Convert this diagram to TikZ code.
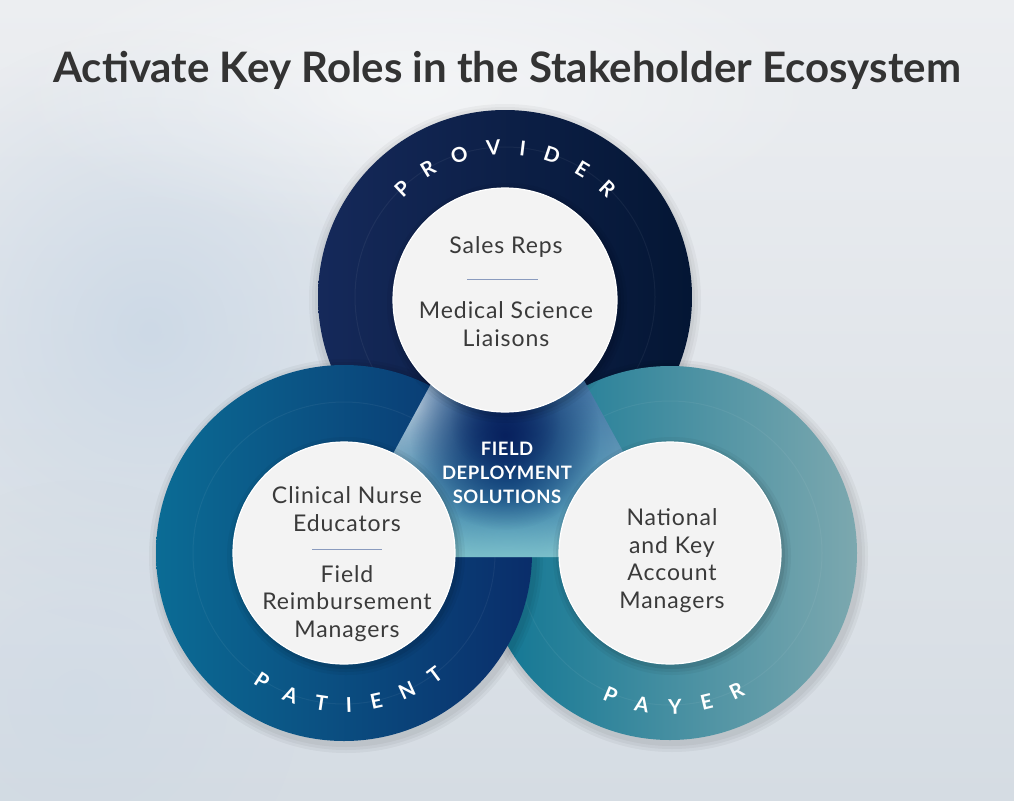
\documentclass[tikz,border=0pt]{standalone}
\usepackage{fontspec}
\setmainfont{Lato}
\newfontfamily\bodyfont[LetterSpace=4]{Lato}
\newfontfamily\fdsfont[LetterSpace=3]{Lato}
\usetikzlibrary{decorations.text,fadings}
\definecolor{bgA}{HTML}{ECEEF1}
\definecolor{bgB}{HTML}{D5DCE3}
\definecolor{bgBlue}{HTML}{CBD8E6}
\definecolor{provL}{HTML}{15295A}
\definecolor{provR}{HTML}{041634}
\definecolor{patL}{HTML}{0B6C95}
\definecolor{patR}{HTML}{0A2D6A}
\definecolor{payL}{HTML}{0E7593}
\definecolor{payR}{HTML}{7CA8AF}
\definecolor{wc}{HTML}{F3F3F3}
\definecolor{txt}{HTML}{3A3A3A}
\definecolor{divc}{HTML}{8A9BBE}
\definecolor{fdsNavy}{HTML}{08215E}
\definecolor{fdsMid}{HTML}{16649A}
\definecolor{fdsTopC}{HTML}{3A689E}
\definecolor{fdsBotC}{HTML}{86C9D0}
\definecolor{titlec}{HTML}{333333}
\tikzfading[name=softdot, inner color=transparent!0, outer color=transparent!100]
\begin{document}
\begin{tikzpicture}[x=1pt,y=-1pt,
  ringnode/.style={circle, inner sep=0pt, minimum size=#1},
  whitenode/.style={circle, inner sep=0pt, minimum size=#1, fill=wc, draw=white, line width=1.2pt},
  bodytext/.style={text=txt, font=\bodyfont\fontsize{23}{27.5}\selectfont, align=center, inner sep=0pt},
  fdstext/.style={text=white, font=\fdsfont\bfseries\fontsize{18.5}{24}\selectfont, align=center, inner sep=0pt},
  divider/.style={draw=divc, line width=0.9pt},
  ringlabel/.style={decorate, decoration={text along path, text color=white, text align={fit to path}, text={|\bfseries\fontsize{20.5}{20.5}\selectfont|#1}}},
  faint/.style={draw=white, draw opacity=0.05, line width=1pt},
]
\useasboundingbox (0,0) rectangle (1014,800);
% background
\fill[top color=bgA, bottom color=bgB] (0,0) rectangle (1014,800);
\fill[bgBlue, opacity=.9, path fading=softdot] (150,330) circle[radius=300pt];
\fill[bgBlue, opacity=.5, path fading=softdot] (80,700) circle[radius=220pt];
\fill[white, opacity=.45, path fading=softdot] (420,90) ellipse[x radius=420pt, y radius=150pt];
% title
\node[font=\bfseries\fontsize{42}{42}\selectfont, text=titlec, anchor=base, inner sep=0pt] (title) at (507,82) {Activate Key Roles in the Stakeholder Ecosystem};
% provider ring
\foreach \d in {3,6,9}{\fill[black,opacity=.035] (505,300) circle[radius={(187+\d)*1pt}];}
\node[ringnode=374pt, left color=provL, right color=provR] (provider) at (505,297) {};
\draw[faint] (provider.center) circle[radius=150pt];
% payer ring
\foreach \d in {3,6,9}{\fill[black,opacity=.04] (672,556) circle[radius={(187+\d)*1pt}];}
\node[ringnode=374pt, left color=payL, right color=payR] (payer) at (670,553) {};
\draw[faint] (payer.center) circle[radius=152pt];
% patient ring
\foreach \d in {3,6,9}{\fill[black,opacity=.04] (346,556) circle[radius={(188+\d)*1pt}];}
\node[ringnode=376pt, left color=patL, right color=patR] (patient) at (344,553) {};
\draw[faint] (patient.center) circle[radius=151pt];
% central triangle
\coordinate (fdsTop) at (508,242);
\coordinate (fdsL) at (337,557);
\coordinate (fdsR) at (681,557);
\begin{scope}
  \clip (fdsTop) -- (fdsL) -- (fdsR) -- cycle;
  \shade[top color=fdsTopC, bottom color=fdsBotC] (330,360) rectangle (690,560);
  \fill[white, opacity=.55, path fading=softdot] (415,405) circle[radius=75pt];
  \fill[fdsMid, opacity=.9, path fading=softdot] (507,470) circle[radius=110pt];
  \fill[fdsBotC, opacity=.7, path fading=softdot] (507,580) circle[radius=80pt];
  \fill[fdsNavy, path fading=softdot] (505,435) circle[radius=95pt];
  \fill[fdsNavy, opacity=.6, path fading=softdot] (505,420) circle[radius=55pt];
\end{scope}
% white circles
\foreach \d/\o in {8/.04,5/.05,2/.07}{\fill[black,opacity=\o] (507,303) circle[radius={(112+\d)*1pt}];}
\node[whitenode=224pt] (provW) at (505,300) {};
\foreach \d/\o in {8/.04,5/.05,2/.07}{\fill[black,opacity=\o] (346,556) circle[radius={(111+\d)*1pt}];}
\node[whitenode=222pt] (patW) at (344,553) {};
\foreach \d/\o in {8/.04,5/.05,2/.07}{\fill[black,opacity=\o] (672,556) circle[radius={(111+\d)*1pt}];}
\node[whitenode=222pt] (payW) at (670,553) {};
% texts (anchor base = last line baseline)
\node[bodytext, anchor=base] (sales) at (506,253) {Sales Reps};
\draw[divider] (467,279) -- (538,279);
\node[bodytext, anchor=base] (msl) at (506,346) {Medical Science\\Liaisons};
\node[bodytext, anchor=base] (cne) at (347,531) {Clinical Nurse\\Educators};
\draw[divider] (312,549) -- (382,549);
\node[bodytext, anchor=base] (frm) at (347,637) {Field\\Reimbursement\\Managers};
\node[bodytext, anchor=base] (nkam) at (672,608) {National\\and Key\\Account\\Managers};
\node[fdstext, anchor=base] (fds) at (507,503) {FIELD\\DEPLOYMENT\\SOLUTIONS};
% ring labels
\path[ringlabel=PROVIDER] ([shift={(provider.center)}]136:142pt) arc[start angle=136, end angle=44, radius=142pt];
\path[ringlabel=PATIENT] ([shift={(patient.center)}]235:159pt) arc[start angle=235, end angle=309, radius=159pt];
\path[ringlabel=PAYER] ([shift={(payer.center)}]245:161pt) arc[start angle=245, end angle=298, radius=161pt];
\end{tikzpicture}
\end{document}
